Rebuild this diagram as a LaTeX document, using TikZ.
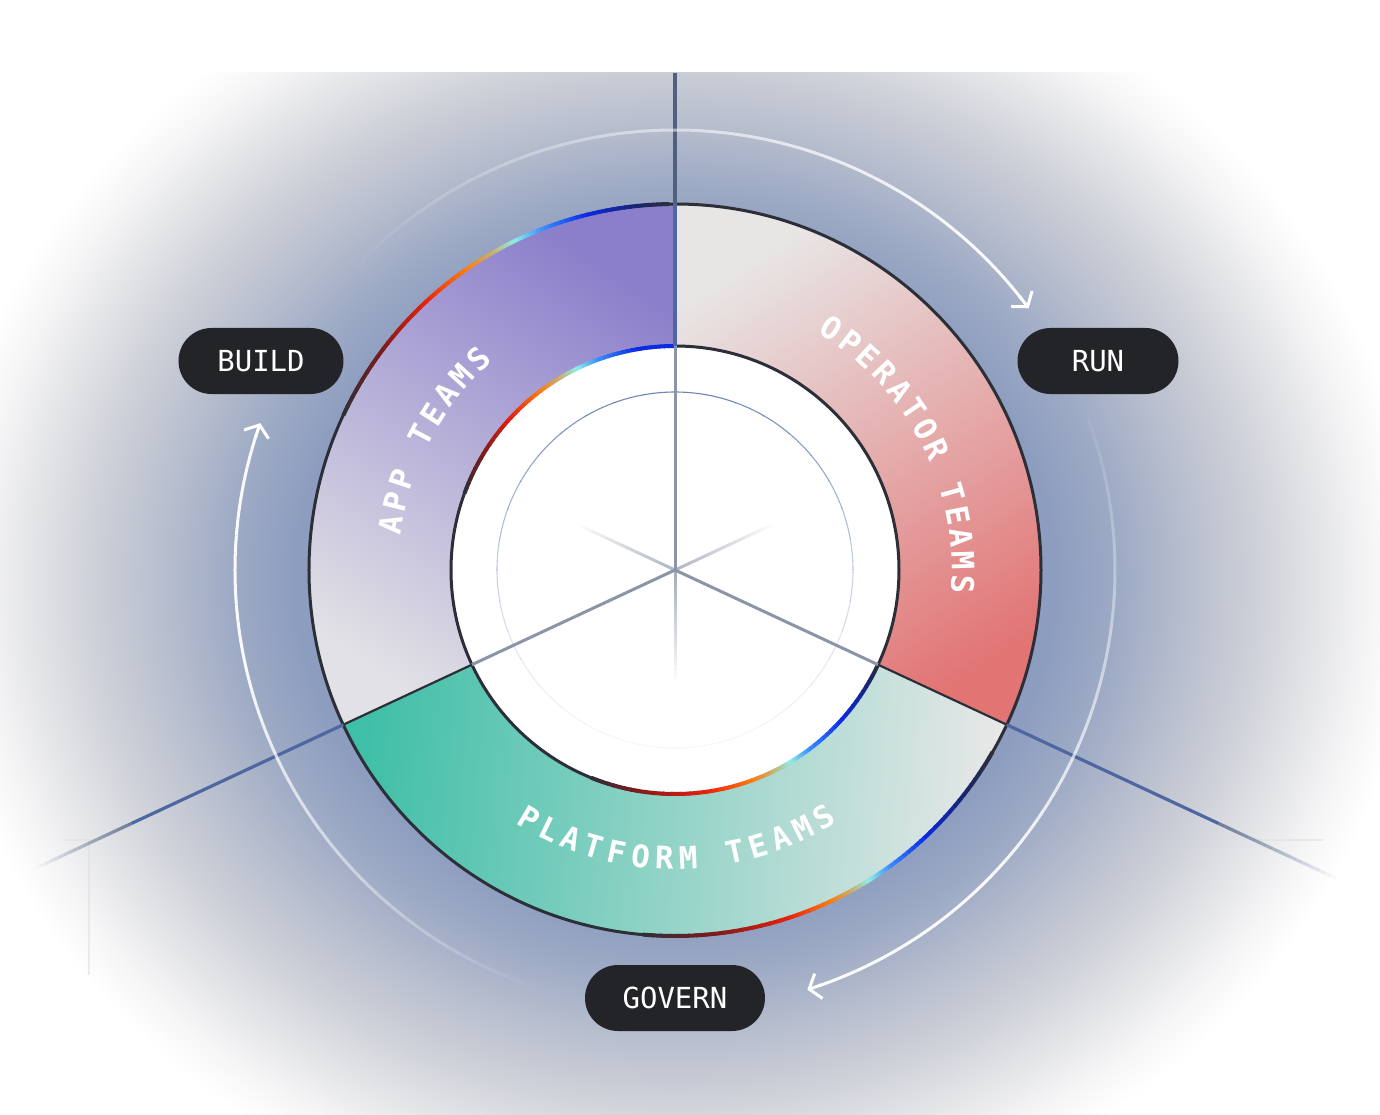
\documentclass[tikz,border=0pt]{standalone}
\usepackage{fontspec}
\newfontfamily\monofont{DejaVu Sans Mono}
\usetikzlibrary{arrows.meta}
\definecolor{bgA}{HTML}{8D9DBF}
\definecolor{bgB}{HTML}{9DAAC5}
\definecolor{bgC}{HTML}{B6BDCD}
\definecolor{bgD}{HTML}{CDD0D8}
\definecolor{bgE}{HTML}{E2E3E6}
\definecolor{bgF}{HTML}{F6F6F7}
\definecolor{ringline}{HTML}{2C2F38}
\definecolor{pillbg}{HTML}{232427}
\definecolor{appTop}{HTML}{8B7FCB}
\definecolor{appMid}{HTML}{A6A0C2}
\definecolor{appBot}{HTML}{E2E1E5}
\definecolor{opTop}{HTML}{E8E5E5}
\definecolor{opMid}{HTML}{C2A6A7}
\definecolor{opBot}{HTML}{E27474}
\definecolor{plTop}{HTML}{3FBFA7}
\definecolor{plMid}{HTML}{92BFB8}
\definecolor{plBot}{HTML}{E8E8E8}
\definecolor{spokeBlue}{HTML}{4F67A0}
\definecolor{spokeGrey}{HTML}{8C94A8}
\definecolor{thinBlue}{HTML}{5B77B0}
\definecolor{rbDark}{HTML}{2C2F38}
\definecolor{rbDRed}{HTML}{7A1B1B}
\definecolor{rbRed}{HTML}{E8200C}
\definecolor{rbOrange}{HTML}{FF7A10}
\definecolor{rbTan}{HTML}{C8B070}
\definecolor{rbCyan}{HTML}{8CF0E6}
\definecolor{rbLBlue}{HTML}{3C8CFF}
\definecolor{rbBlue}{HTML}{0A2AE6}
\definecolor{rbNavy}{HTML}{1A2470}
\pgfdeclareradialshading{bgshade}{\pgfpoint{0bp}{0bp}}{color(0bp)=(bgA); color(12.8bp)=(bgA); color(14.9bp)=(bgB); color(17.2bp)=(bgC); color(19.6bp)=(bgD); color(21.6bp)=(bgE); color(23.6bp)=(bgF); color(25bp)=(white); color(50bp)=(white)}
\tikzset{
  outline/.style={draw=ringline, line width=3pt},
  arcwhite/.style={draw=white, line width=3pt},
  pill/.style={fill=pillbg, text=white, rounded corners=33pt, minimum height=66pt, inner sep=0pt, font=\monofont\fontsize{29}{29}\selectfont},
  ringtxt/.style={text=white, inner sep=0pt, font=\monofont\bfseries\fontsize{31}{31}\selectfont},
}
% fading straight line along a ray: angle, r0, r1, color, width, op0, op1
\newcommand{\fadeline}[7]{%
  \foreach \k in {0,...,19}{%
    \pgfmathsetmacro{\ra}{#2+(#3-#2)*\k/20}%
    \pgfmathsetmacro{\rb}{#2+(#3-#2)*(\k+1)/20}%
    \pgfmathsetmacro{\op}{#6+(#7-#6)*(\k+0.5)/20}%
    \draw[#4, line width=#5, opacity=\op] (#1:\ra) -- (#1:\rb);
  }}
% fading white arc: radius, a0, a1, op0, op1, speed
\newcommand{\fadearc}[6]{%
  \foreach \k in {0,...,39}{%
    \pgfmathsetmacro{\sa}{#2+(#3-#2)*\k/40}%
    \pgfmathsetmacro{\sb}{#2+(#3-#2)*(\k+1)/40}%
    \pgfmathsetmacro{\op}{#4+(#5-#4)*min(1,#6*(\k+0.5)/40)}%
    \draw[arcwhite, opacity=\op] (\sa:#1) arc[start angle=\sa, end angle=\sb, radius=#1];
  }}
% rainbow rim: radius, list a1/a2/c1/c2
\newcommand{\rainbowarc}[2]{%
  \foreach \aa/\ab/\ca/\cb in {#2}{%
    \foreach \k in {0,...,7}{%
      \pgfmathsetmacro{\sa}{\aa+(\ab-\aa)*\k/8}%
      \pgfmathsetmacro{\sb}{\aa+(\ab-\aa)*(\k+1.2)/8}%
      \pgfmathtruncatemacro{\pc}{100-(\k+0.5)*12.5}%
      \draw[line width=4pt, \ca!\pc!\cb] (\sa:#1) arc[start angle=\sa, end angle=\sb, radius=#1];
    }}}
\begin{document}
\begin{tikzpicture}[x=1pt,y=1pt]
\useasboundingbox (-675,-544) rectangle (705,570);
\fill[white] (-675,-544) rectangle (705,570);
% background glow
\begin{scope}
  \clip (-675,-544) rectangle (705,497);
  \shade[shading=bgshade] (0,-10) ellipse [x radius=740, y radius=660];
  \draw[black!12, line width=1.2pt, opacity=0.6] (-612,-270) -- (-578,-270);
  \draw[black!12, line width=1.2pt, opacity=0.6] (-586,-270) -- (-586,-405);
  \draw[black!12, line width=1.2pt, opacity=0.6] (578,-270) -- (648,-270);
\end{scope}
% ring sectors
\shade[top color=appTop, middle color=appMid, bottom color=appBot, shading angle=-34]
  (90:366) arc[start angle=90, end angle=205, radius=366] -- (205:224)
  arc[start angle=205, end angle=90, radius=224] -- cycle;
\shade[top color=opTop, middle color=opMid, bottom color=opBot, shading angle=33]
  (-25:366) arc[start angle=-25, end angle=90, radius=366] -- (90:224)
  arc[start angle=90, end angle=-25, radius=224] -- cycle;
\shade[top color=plTop, middle color=plMid, bottom color=plBot, shading angle=85]
  (205:366) arc[start angle=205, end angle=335, radius=366] -- (335:224)
  arc[start angle=335, end angle=205, radius=224] -- cycle;
% inner disc
\fill[white] (0,0) circle (223);
\foreach \k in {0,...,35}{%
  \pgfmathsetmacro{\op}{0.06+0.84*((1+sin(\k*10+5))/2)^1.5}%
  \draw[thinBlue, line width=1.1pt, opacity=\op] (\k*10:178) arc[start angle=\k*10, end angle=\k*10+10.2, radius=178];
}
% outlines
\draw[outline] (0,0) circle (366);
\draw[outline] (0,0) circle (224);
\draw[ringline, line width=2.2pt] (205:224) -- (205:366);
\draw[ringline, line width=2.2pt] (-25:224) -- (-25:366);
% rainbow rims
\rainbowarc{366}{155/143/rbDark/rbDRed, 143/133/rbDRed/rbRed, 133/125/rbRed/rbOrange, 125/120/rbOrange/rbTan, 120/116/rbTan/rbCyan, 116/111/rbCyan/rbLBlue, 111/104/rbLBlue/rbBlue, 104/96/rbBlue/rbNavy, 96/91/rbNavy/rbDark}
\rainbowarc{224}{160/149/rbDark/rbDRed, 149/137/rbDRed/rbRed, 137/127/rbRed/rbOrange, 127/121/rbOrange/rbTan, 121/116/rbTan/rbCyan, 116/110/rbCyan/rbLBlue, 110/100/rbLBlue/rbBlue, 100/90.5/rbBlue/rbBlue}
\rainbowarc{366}{-95/-84/rbDark/rbDRed, -84/-72/rbDRed/rbRed, -72/-65/rbRed/rbOrange, -65/-61/rbOrange/rbTan, -61/-58/rbTan/rbCyan, -58/-54/rbCyan/rbLBlue, -54/-47/rbLBlue/rbBlue, -47/-38/rbBlue/rbNavy, -38/-30/rbNavy/rbDark}
\rainbowarc{224}{-112/-100/rbDark/rbDRed, -100/-82/rbDRed/rbRed, -82/-70/rbRed/rbOrange, -70/-64/rbOrange/rbTan, -64/-59/rbTan/rbCyan, -59/-53/rbCyan/rbLBlue, -53/-42/rbLBlue/rbBlue, -42/-30/rbBlue/rbNavy, -30/-25/rbNavy/rbDark}
% spokes
\draw[spokeBlue!80!black!70!gray, line width=3.5pt] (90:497) -- (90:366);
\draw[spokeBlue, line width=3.5pt] (90:366) -- (90:224);
\draw[spokeGrey, line width=3pt] (90:224) -- (0,0);
\draw[spokeGrey, line width=3pt] (0,0) -- (205:224);
\draw[spokeGrey, line width=3pt] (0,0) -- (-25:224);
\draw[spokeBlue, line width=3.2pt] (205:366) -- (205:600);
\draw[spokeBlue, line width=3.2pt] (-25:366) -- (-25:600);
\fadeline{205}{600}{705}{spokeBlue!60!gray}{3.2pt}{0.9}{0}
\fadeline{-25}{600}{730}{spokeBlue!60!gray}{3.2pt}{0.9}{0}
\fadeline{155}{0}{108}{spokeGrey}{3pt}{0.7}{0}
\fadeline{25}{0}{110}{spokeGrey}{3pt}{0.7}{0}
\fadeline{270}{0}{112}{spokeGrey}{3pt}{0.8}{0}
% cycle arcs
\fadearc{440}{138}{38}{0}{0.95}{1.1}
\draw[arcwhite, -{Straight Barb[length=10pt, width=26pt]}] (38.5:440) arc[start angle=38.5, end angle=36.5, radius=440];
\fadearc{440}{20}{-71}{0.05}{0.95}{1.4}
\draw[arcwhite, -{Straight Barb[length=10pt, width=26pt]}] (-70.5:440) arc[start angle=-70.5, end angle=-72.5, radius=440];
\fadearc{440}{252}{162}{0}{0.95}{1.5}
\draw[arcwhite, -{Straight Barb[length=10pt, width=26pt]}] (162.5:440) arc[start angle=162.5, end angle=160.5, radius=440];
% ring labels
\foreach \ch/\i in {A/0,P/1,P/2,T/4,E/5,A/6,M/7,S/8}{%
  \pgfmathsetmacro{\ang}{171-4.75*\i}%
  \node[ringtxt, rotate=\ang-90] (app-\i) at (\ang:288) {\ch};
}
\foreach \ch/\i in {O/0,P/1,E/2,R/3,A/4,T/5,O/6,R/7,T/9,E/10,A/11,M/12,S/13}{%
  \pgfmathsetmacro{\ang}{57-4.6*\i}%
  \node[ringtxt, rotate=\ang-90] (op-\i) at (\ang:288) {\ch};
}
\foreach \ch/\i in {P/0,L/1,A/2,T/3,F/4,O/5,R/6,M/7,T/9,E/10,A/11,M/12,S/13}{%
  \pgfmathsetmacro{\ang}{239.5+4.73*\i}%
  \node[ringtxt, rotate=\ang+90] (pl-\i) at (\ang:288) {\ch};
}
% phase pills
\node[pill, minimum width=165pt] (build) at (-414,209) {BUILD};
\node[pill, minimum width=161pt] (run) at (423,209) {RUN};
\node[pill, minimum width=180pt] (govern) at (0,-428) {GOVERN};
\end{tikzpicture}
\end{document}
